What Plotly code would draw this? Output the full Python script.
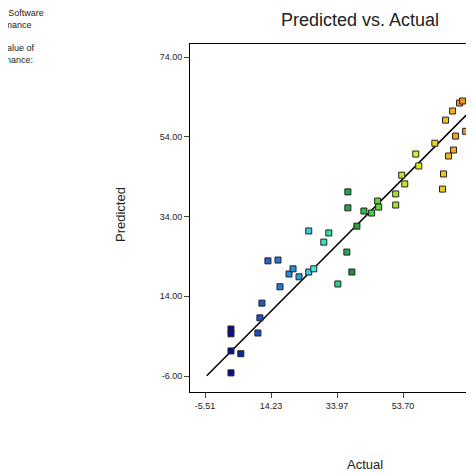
import plotly.graph_objects as go

actual = [2.25, 2.25, 5.2, 2.25, 2.25, 10.3, 10.9, 11.5, 13.3, 16.3, 16.9, 19.6, 20.8, 22.6,
          25.5, 27.0, 30.0, 31.5, 25.5, 36.9, 38.4, 34.2, 37.2, 37.2, 39.9, 42.0, 44.3, 46.1,
          46.4, 51.5, 51.5, 53.3, 54.2, 57.5, 58.4, 63.2, 66.4, 68.5, 70.6, 71.5, 69.4, 72.4,
          68.8, 67.3, 65.8, 65.5]
predicted = [-5.2, 0.3, -0.4, 5.8, 4.6, 4.8, 8.6, 12.3, 22.9, 23.1, 16.4, 19.6, 20.9, 18.9,
             20.1, 20.9, 27.6, 29.9, 30.4, 25.1, 20.1, 17.1, 40.2, 36.2, 31.6, 35.4, 34.9, 37.9,
             36.4, 39.7, 36.9, 44.4, 42.2, 49.7, 46.7, 52.4, 58.2, 60.5, 62.5, 63.0, 54.2, 55.4,
             50.7, 49.2, 44.7, 40.9]
x_ticks = [-5.51, 14.23, 33.97, 53.70]
x_labels = ["-5.51", "14.23", "33.97", "53.70"]
y_ticks = [-6, 14, 34, 54, 74]
y_labels = ["-6.00", "14.00", "34.00", "54.00", "74.00"]
line_x = [-5.0, 78.0]
line_y = [-5.9, 64.0]

scale = [[0, "#0a0a90"], [0.15, "#1f5fd0"], [0.3, "#2aa0e0"], [0.36, "#40e8e0"],
         [0.45, "#30d890"], [0.52, "#209040"], [0.6, "#40d040"], [0.7, "#a0e030"],
         [0.82, "#f0f020"], [0.92, "#f0c020"], [1, "#f09020"]]

fig = go.Figure()
fig.add_trace(go.Scatter(x=line_x, y=line_y, mode="lines",
                         line=dict(color="black", width=1.5), hoverinfo="skip"))
fig.add_trace(go.Scatter(x=actual, y=predicted, mode="markers",
                         marker=dict(symbol="square", size=6, color=actual, colorscale=scale,
                                     cmin=2, cmax=72, line=dict(color="#222", width=1))))
L, T, B, W = 182, 36, 90, 292
fig.update_layout(
    width=474, height=474, showlegend=False, plot_bgcolor="white", paper_bgcolor="white",
    margin=dict(l=L, r=0, t=T, b=B),
    font=dict(family="Liberation Sans, Arial", color="#222"),
    xaxis=dict(range=[-10, 77.3], tickvals=x_ticks, ticktext=x_labels, ticks="outside",
               ticklen=5, showgrid=False, zeroline=False, showline=True, linecolor="black",
               mirror=True, tickfont=dict(size=9)),
    yaxis=dict(range=[-10, 77.3], tickvals=y_ticks, ticktext=y_labels, ticks="outside",
               ticklen=5, showgrid=False, zeroline=False, showline=True, linecolor="black",
               mirror=True, tickfont=dict(size=9)),
)
def px(xp, yp):
    xp -= 8; yp -= 8
    return (xp - L) / W, 1 - (yp - T) / 348
anns = [
    ("Predicted vs. Actual", 360, 20, 18, "center", 0),
    ("Predicted", 120, 215, 13, "center", -90),
    ("Actual", 365, 464, 13, "center", 0),
    ("Design-Expert® Software", 46, 13, 9, "right", 0),
    ("Performance", 34, 25, 9, "right", 0),
    ("Color points by value of", 37, 48, 9, "right", 0),
    ("Performance:", 35, 60, 9, "right", 0),
]
for t, xp, yp, s, xa, ang in anns:
    xx, yy = px(xp, yp)
    fig.add_annotation(text=t, x=xx, y=yy, xref="paper", yref="paper", showarrow=False,
                       xanchor=xa, yanchor="middle", textangle=ang, font=dict(size=s, color="#222"))
fig.write_html("out.html")
